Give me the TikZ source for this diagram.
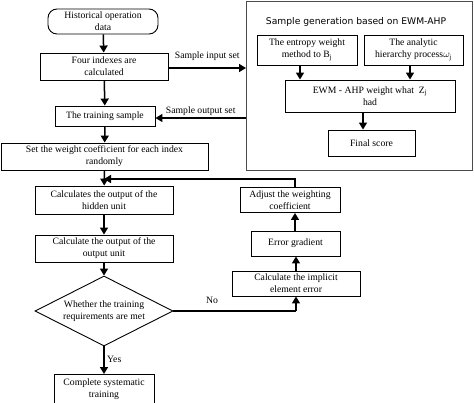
\documentclass[tikz,border=0pt]{standalone}
\usepackage{fontspec}
\setmainfont{Liberation Serif}
\newfontfamily\titlefont{DejaVu Sans}
\usetikzlibrary{arrows.meta,shapes.geometric}
\begin{document}
\begin{tikzpicture}[x=1pt,y=-1pt,
  box/.style={draw,line width=0.9pt,align=center,font=\fontsize{9.7}{12}\selectfont,inner sep=1pt},
  term/.style={box,rounded corners=9pt},
  arr/.style={line width=1.5pt,-{Triangle[length=7pt,width=8pt]}},
  ln/.style={line width=1.5pt},
  lab/.style={font=\fontsize{9.7}{12}\selectfont,inner sep=1pt}]
\useasboundingbox (0,0) rectangle (474,402);
% left column
\node[term,minimum width=110pt,minimum height=25pt] (hist) at (103,21.5) {Historical operation\\data};
\node[box,minimum width=128pt,minimum height=27pt] (four) at (104,66.5) {Four indexes are\\calculated};
\node[box,minimum width=100pt,minimum height=20pt] (train) at (105,116) {The training sample};
\node[box,minimum width=207pt,minimum height=27pt] (setw) at (104.5,156.5) {Set the weight coefficient for each index\\randomly};
\node[box,minimum width=138pt,minimum height=28pt] (hid) at (104,200) {Calculates the output of the\\hidden unit};
\node[box,minimum width=138pt,minimum height=27pt] (outu) at (104,248.5) {Calculate the output of the\\output unit};
\node[draw,line width=0.9pt,minimum width=138pt,minimum height=70pt,diamond,aspect=1.97,inner sep=0pt] (dec) at (104,311) {};
\node[font=\fontsize{9.7}{12}\selectfont,align=center] (dect) at (104,311) {Whether the training\\requirements are met};
\node[box,minimum width=100pt,minimum height=30pt,anchor=north] (comp) at (104,374) {Complete systematic\\training};
% right panel
\node[draw=black!70,line width=0.9pt,minimum width=226pt,minimum height=169pt,anchor=north west] (panel) at (246,1) {};
\node[font=\titlefont\fontsize{9.2}{11}\selectfont] (title) at (356,22) {Sample generation based on EWM-AHP};
\node[box,minimum width=100pt,minimum height=30pt] (ent) at (307,50) {The entropy weight\\method to B$_{\mathrm{j}}$};
\node[box,minimum width=99pt,minimum height=30pt] (ahp) at (413.5,50) {The analytic\\hierarchy process$\omega_{\mathrm{j}}$};
\node[box,minimum width=170pt,minimum height=32pt] (ewm) at (370,96) {EWM - AHP weight what \ Z$_{\mathrm{j}}$\\had};
\node[box,minimum width=87pt,minimum height=26pt] (fin) at (371.5,143) {Final score};
% right column
\node[box,minimum width=100pt,minimum height=25pt] (adj) at (290,200) {Adjust the weighting\\coefficient};
\node[box,minimum width=89pt,minimum height=25pt] (err) at (295.5,243.5) {Error gradient};
\node[box,minimum width=128pt,minimum height=25pt] (imp) at (296,283.5) {Calculate the implicit\\element error};
% coordinates
\coordinate (fb) at (104,179);
\coordinate (nocorner) at (296,311);
% arrows left
\draw[arr] (hist) -- (four);
\draw[arr] (four) -- (train);
\draw[arr] (train) -- (setw);
\draw[arr] (setw) -- (hid);
\draw[arr] (hid) -- (outu);
\draw[arr] (outu) -- (dec.north);
\draw[arr] (dec.south) -- (comp);
\node[lab,anchor=west] (yes) at (106,359) {Yes};
% to/from panel
\draw[arr] (four.east |- 0,68) -- (panel.west |- 0,68) node[pos=0.5,above=6pt,lab] (sin) {Sample input set};
\draw[arr] (panel.west |- 0,118) -- (train.east |- 0,118) node[pos=0.5,above=1pt,lab] (sout) {Sample output set};
% panel arrows
\draw[arr] (ent.south -| 300,0) -- (ewm.north -| 300,0);
\draw[arr] (ahp.south -| 410,0) -- (ewm.north -| 410,0);
\draw[arr] (ewm.south -| 363,0) -- (fin.north -| 363,0);
% feedback
\draw[ln] (dec.east) -- (nocorner);
\draw[arr] (nocorner) -- (imp.south -| nocorner);
\node[lab] (no) at (212,300) {No};
\draw[arr] (imp.north -| 296,0) -- (err.south -| 296,0);
\draw[arr] (err.north -| 295,0) -- (adj.south -| 295,0);
\draw[arr] (adj.north -| 295,0) -- (295,179) -- (fb);
\end{tikzpicture}
\end{document}
